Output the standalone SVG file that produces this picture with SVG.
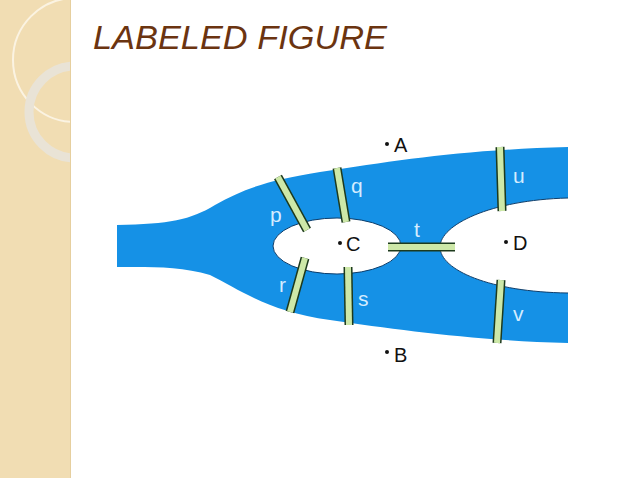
<svg xmlns="http://www.w3.org/2000/svg" width="638" height="478" viewBox="0 0 638 478">
<defs><clipPath id="sb"><rect x="0" y="0" width="70" height="478"/></clipPath></defs>
<style>
.lb{font-family:"Liberation Sans",Arial,sans-serif;font-size:21px;fill:#d4ecff}
.tx{font-family:"Liberation Sans",Arial,sans-serif;font-size:20px;fill:#111}
.bo{stroke:#1d3a1d;stroke-width:9}
.bi{stroke:#cde8a8;stroke-width:6}
</style>
<rect width="638" height="478" fill="#fff"/>
<g id="sidebar">
<rect x="0" y="0" width="70" height="478" fill="#f1ddb3"/>
<line x1="70.5" y1="0" x2="70.5" y2="478" stroke="#e6cf9f"/>
<g clip-path="url(#sb)">
<circle cx="75" cy="60" r="62" fill="none" stroke="#fbf3e2" stroke-width="2"/>
<circle cx="75" cy="112" r="46" fill="none" stroke="#e9e3d6" stroke-width="9"/>
</g>
</g>
<text x="93" y="49" font-family="'Liberation Sans',Arial,sans-serif" font-size="34" font-style="italic" fill="#6b3410" textLength="294" lengthAdjust="spacingAndGlyphs">LABELED FIGURE</text>
<g id="river">
<path d="M117,225 C170,224 190,220 215,205 C245,188 270,180 320,172 C400,160 460,150 568,147 L568,198 C490,200 440,225 440,247 C440,270 490,292 568,293 L568,343 C470,340 400,330 330,320 C270,312 240,290 210,275 C180,266 150,267 117,267 Z" fill="#1591e6"/>
<ellipse cx="337" cy="246" rx="64" ry="28" fill="#fff" stroke="#0d3d6a" stroke-width="1"/>
<path d="M568,198 C490,200 440,225 440,247 C440,270 490,292 568,293" fill="#fff" stroke="#0d3d6a" stroke-width="1"/>
</g>
<g id="bridges">
<line class="bo" x1="278" y1="177" x2="307" y2="230"/><line class="bi" x1="278" y1="177" x2="307" y2="230"/>
<line class="bo" x1="337" y1="168" x2="346" y2="222"/><line class="bi" x1="337" y1="168" x2="346" y2="222"/>
<line class="bo" x1="290" y1="312" x2="305" y2="258"/><line class="bi" x1="290" y1="312" x2="305" y2="258"/>
<line class="bo" x1="348" y1="267" x2="349" y2="325"/><line class="bi" x1="348" y1="267" x2="349" y2="325"/>
<line class="bo" x1="388" y1="247" x2="455" y2="247"/><line class="bi" x1="388" y1="247" x2="455" y2="247"/>
<line class="bo" x1="500" y1="147" x2="502" y2="211"/><line class="bi" x1="500" y1="147" x2="502" y2="211"/>
<line class="bo" x1="501" y1="280" x2="497" y2="343"/><line class="bi" x1="501" y1="280" x2="497" y2="343"/>
</g>
<g id="labels">
<text class="lb" x="270" y="222">p</text>
<text class="lb" x="351" y="193">q</text>
<text class="lb" x="279" y="292">r</text>
<text class="lb" x="358" y="306">s</text>
<text class="lb" x="414" y="237">t</text>
<text class="lb" x="513" y="183">u</text>
<text class="lb" x="513" y="321">v</text>
</g>
<g id="points">
<circle cx="387" cy="144" r="2" fill="#111"/><text class="tx" x="394" y="152">A</text>
<circle cx="387" cy="352" r="2" fill="#111"/><text class="tx" x="394" y="362">B</text>
<circle cx="340" cy="243" r="2" fill="#111"/><text class="tx" x="346" y="251">C</text>
<circle cx="506" cy="242" r="2" fill="#111"/><text class="tx" x="513" y="250">D</text>
</g>
</svg>
